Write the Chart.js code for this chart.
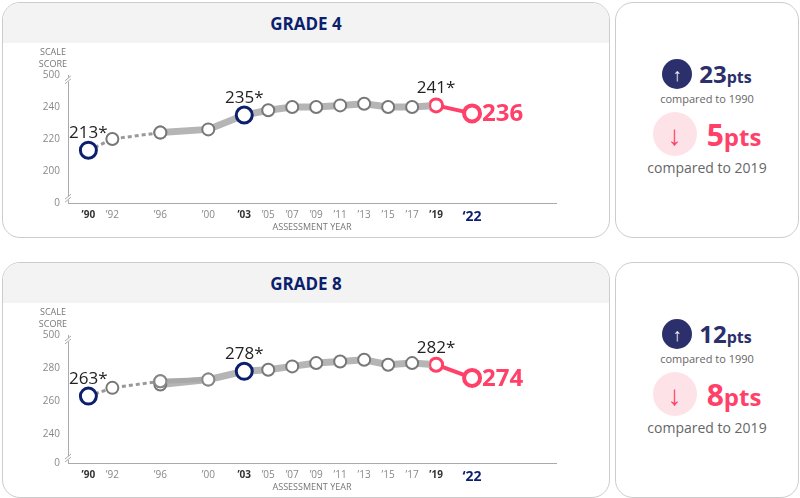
<!DOCTYPE html>
<html><head><meta charset="utf-8">
<script src="https://cdn.jsdelivr.net/npm/chart.js@4"></script>
<style>
body{margin:0;width:800px;height:498px;background:#fff;font-family:"Open Sans",sans-serif;position:relative;overflow:hidden}
.panel{position:absolute;border:1px solid #ccc;border-radius:18px;overflow:hidden;background:#fff}
.head{height:40px;background:#f3f3f3;color:#0b1f6e;font-weight:700;font-size:17px;text-align:center;line-height:42px}
.side{text-align:center;color:#666}
.row{display:flex;align-items:center;justify-content:center}
.circ{border-radius:50%;display:flex;align-items:center;justify-content:center}
</style></head><body>
<div class="panel" style="left:2px;top:2px;width:606px;height:234px"><div class="head">GRADE 4</div><canvas id="g4" width="606" height="194"></canvas></div>
<div class="panel" style="left:2px;top:262px;width:606px;height:234px"><div class="head">GRADE 8</div><canvas id="g8" width="606" height="194"></canvas></div>
<div class="panel side" id="s4" style="left:615px;top:2px;width:182px;height:234px"></div>
<div class="panel side" id="s8" style="left:615px;top:262px;width:182px;height:234px"></div>
<script>
"use strict";
// tick years on the x axis
const years = [1990, 1992, 1996, 2000, 2003, 2005, 2007, 2009, 2011, 2013, 2015, 2017, 2019, 2022];
const boldYears = [1990, 2003, 2019];

// grade 4 scores
const g4Dashed = [213, 220, 224];             // 1990, 1992, 1996
const g4Solid = [224, 226, 235, 238, 240, 240, 241, 242, 240, 240, 241]; // 1996 .. 2019
const g4Last = [241, 236];                      // 2019, 2022
// grade 8 scores
const g8Dashed = [263, 268, 272];
const g8Solid = [270, 273, 278, 279, 281, 283, 284, 285, 282, 283, 282];
const g8Alt = [272, 273];                       // 1996, 2000 second line
const g8Last = [282, 274];

const solidYears = years.slice(2, 13);
const NAVY = "#0b1f6e", RED = "#ff4068", GREY = "#b5b5b5";

function pts(xs, ys) { return xs.map((x, i) => ({x: x, y: ys[i]})) }
const tv = c => (c && c.tick) ? c.tick.value : 0;

function side(id, up, down) {
    document.getElementById(id).innerHTML =
        `<div class="row" style="margin-top:54px"><div class="circ" style="width:30px;height:30px;background:#2b2f6b;color:#fff;font-size:18px;font-weight:700">&#8593;</div>
         <span style="color:#2b2f6b;font-weight:700;font-size:24px;margin-left:7px">${up}<span style="font-size:16px">pts</span></span></div>
         <div style="font-size:11px;margin-top:1px">compared to 1990</div>
         <div class="row" style="margin-top:6px"><div class="circ" style="width:44px;height:44px;background:#fde3e8;color:${RED};font-size:28px;font-weight:700">&#8595;</div>
         <span style="color:${RED};font-weight:700;font-size:30px;margin-left:10px">${down}<span style="font-size:24px">pts</span></span></div>
         <div style="font-size:14px;margin-top:2px">compared to 2019</div>`;
}
side("s4", 23, 5);
side("s8", 12, 8);

function makeChart(id, cfg) {
    const starIdx = [0, 4, 12];
    const all = [cfg.dashed[0], cfg.dashed[1], ...cfg.solid];
    const labelsPlugin = {
        id: "lbl",
        afterDatasetsDraw(chart) {
            const c = chart.ctx, xs = chart.scales.x, ys = chart.scales.y;
            c.save();
            c.font = "500 17px 'Open Sans'"; c.fillStyle = "#222"; c.textAlign = "center";
            starIdx.forEach(i => {
                c.fillText(all[i] + "*", xs.getPixelForValue(years[i]), ys.getPixelForValue(all[i]) - 12);
            });
            c.font = "700 24px 'Open Sans'"; c.fillStyle = RED; c.textAlign = "left"; c.textBaseline = "middle";
            c.fillText(String(cfg.last[1]), xs.getPixelForValue(2022) + 10, ys.getPixelForValue(cfg.last[1]) + 1);
            // scale score title + axis breaks
            c.font = "9px 'Open Sans'"; c.fillStyle = "#777"; c.textAlign = "right"; c.textBaseline = "alphabetic";
            c.fillText("SCALE", 63, 12); c.fillText("SCORE", 64, 24);
            c.strokeStyle = "#aaa"; c.lineWidth = 1;
            const xa = xs.left;
            [cfg.max - 3, cfg.min + 3].forEach(v => {
                const y = ys.getPixelForValue(v);
                c.fillStyle = "#fff"; c.fillRect(xa - 2, y - 2, 4, 4);
                c.beginPath(); c.moveTo(xa - 3, y + 1); c.lineTo(xa + 3, y - 4); c.stroke();
                c.beginPath(); c.moveTo(xa - 3, y + 4); c.lineTo(xa + 3, y - 1); c.stroke();
            });
            c.restore();
        }
    };
    const datasets = [
        {data: pts(years.slice(0, 3), cfg.dashed), borderColor: "#999", borderWidth: 3, borderDash: [4, 3],
            pointRadius: [8, 6, 6], pointBorderColor: [NAVY, "#777", "#777"], pointBackgroundColor: "#fff", pointBorderWidth: [3, 2, 2]},
        {data: pts(solidYears, cfg.solid), borderColor: GREY, borderWidth: 7,
            pointRadius: solidYears.map(y => y == 2003 ? 8 : 6), pointBorderColor: solidYears.map(y => y == 2003 ? NAVY : y == 2019 ? RED : "#777"),
            pointBackgroundColor: "#fff", pointBorderWidth: solidYears.map(y => y == 2003 ? 3 : 2)},
        {data: pts([2019, 2022], cfg.last), borderColor: RED, borderWidth: 4,
            pointRadius: [7, 8], pointBorderColor: RED, pointBackgroundColor: "#fff", pointBorderWidth: [2, 4]}
    ];
    if (cfg.alt) datasets.unshift({data: pts([1996, 2000], cfg.alt), borderColor: "#a8a8a8", borderWidth: 5,
        pointRadius: 6, pointBorderColor: "#888", pointBackgroundColor: "#fff", pointBorderWidth: 2});
    new Chart(document.getElementById(id), {
        type: "line",
        data: {datasets: datasets},
        options: {
            responsive: false, animation: false,
            layout: {padding: {top: 32, right: 53}},
            plugins: {legend: {display: false}, tooltip: {enabled: false}},
            scales: {
                x: {
                    type: "linear", min: 1988.3, max: 2029,
                    afterBuildTicks: a => { a.ticks = years.map(v => ({value: v})) },
                    afterFit: a => { a.height = 34 },
                    grid: {display: false, drawTicks: false}, border: {color: "#aaa"},
                    ticks: {
                        padding: 6, autoSkip: false, maxRotation: 0,
                        callback: v => (v == 2022 ? "\u201822" : "\u2019" + String(v).slice(2)),
                        color: c => tv(c) == 2022 ? NAVY : boldYears.includes(tv(c)) ? "#333" : "#888",
                        font: c => tv(c) == 2022 ? {size: 14, weight: "700", family: "Open Sans"}
                            : {size: 10, weight: boldYears.includes(tv(c)) ? "700" : "400", family: "Open Sans"}
                    },
                    title: {display: true, text: "ASSESSMENT YEAR", color: "#777", font: {size: 9, family: "Open Sans"}, padding: {top: 2}}
                },
                y: {
                    min: cfg.min, max: cfg.max,
                    afterBuildTicks: a => { a.ticks = [cfg.min, ...cfg.ticks, cfg.max].map(v => ({value: v})) },
                    afterFit: a => { a.width = 65 },
                    grid: {display: false, drawTicks: true, tickLength: 4, tickColor: "#aaa"}, border: {color: "#aaa"},
                    ticks: {
                        padding: 4, color: "#888", font: {size: 10, family: "Open Sans"},
                        callback: v => v == cfg.min ? "0" : v == cfg.max ? "500" : String(v)
                    }
                }
            }
        },
        plugins: [labelsPlugin]
    });
}

makeChart("g4", {dashed: g4Dashed, solid: g4Solid, last: g4Last, min: 180, max: 260, ticks: [200, 220, 240]});
makeChart("g8", {dashed: g8Dashed, solid: g8Solid, last: g8Last, alt: g8Alt, min: 222.5, max: 300, ticks: [240, 260, 280]});
</script>
</body></html>
